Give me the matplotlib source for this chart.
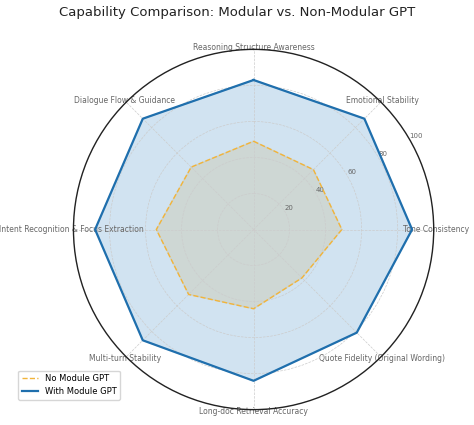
import numpy as np
import matplotlib
matplotlib.use("Agg")
import matplotlib.pyplot as plt

categories = ["Reasoning Structure Awareness", "Emotional Stability", "Tone Consistency",
              "Quote Fidelity (Original Wording)", "Long-doc Retrieval Accuracy",
              "Multi-turn Stability", "Intent Recognition & Focus Extraction",
              "Dialogue Flow & Guidance"]
no_module = [49, 47, 49, 38, 44, 51, 54, 49]
with_module = [83, 87, 88, 81, 84, 87, 88, 87]
r_ticks = [20, 40, 60, 80, 100]

n = len(categories)
ang = np.linspace(0, 2*np.pi, n, endpoint=False).tolist()
angc = ang + ang[:1]

fig = plt.figure(figsize=(4.74, 4.25), dpi=100)
ax = fig.add_axes([0.155, 0.035, 0.76, 0.85], polar=True)
ax.set_theta_offset(np.pi/2)
ax.set_theta_direction(-1)
ax.set_ylim(0, 100)

nm = no_module + no_module[:1]
wm = with_module + with_module[:1]
ax.plot(angc, nm, color="#f2b43a", linestyle="--", linewidth=1, label="No Module GPT")
ax.fill(angc, nm, color="#f2c46a", alpha=0.25)
ax.plot(angc, wm, color="#1f6fad", linewidth=1.6, label="With Module GPT")
ax.fill(angc, wm, color="#4a90c8", alpha=0.25)

ax.set_xticks(ang)
ax.set_xticklabels(categories, fontsize=5.5, color="#666666")
ax.tick_params(axis='x', pad=-9)
ax.set_yticks(r_ticks)
ax.set_yticklabels([str(t) for t in r_ticks], fontsize=5, color="#666666")
ax.set_rlabel_position(60)
ax.grid(color="#cccccc", linewidth=0.5, linestyle="--")
ax.spines['polar'].set_color("#222222")
ax.spines['polar'].set_linewidth(1)

fig.suptitle("Capability Comparison: Modular vs. Non-Modular GPT", fontsize=9.5, y=0.985, color="#222222")
fig.legend(loc="lower left", bbox_to_anchor=(0.03, 0.05), fontsize=6, frameon=True)
fig.savefig("out.png", dpi=100)
